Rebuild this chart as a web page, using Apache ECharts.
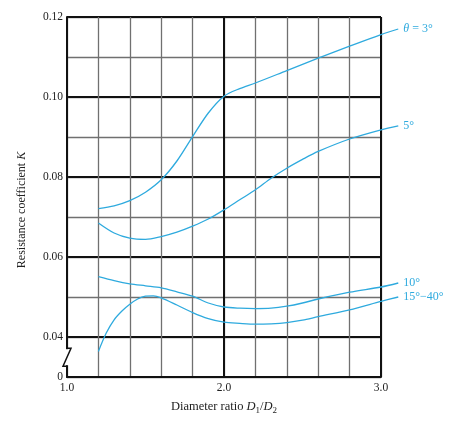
<!DOCTYPE html>
<html>
<head>
<meta charset="utf-8">
<script src="https://cdn.jsdelivr.net/npm/echarts@6/dist/echarts.min.js"></script>
<style>
  html, body { margin: 0; padding: 0; background: #fff; }
  #chart { width: 474px; height: 424px; }
</style>
</head>
<body>
<div id="chart"></div>
<script>
// diameter ratio D1/D2 for each curve and the resistance coefficient K
var ratio3 = [1.2, 1.3, 1.4, 1.5, 1.6, 1.7, 1.8, 1.9, 2.0, 2.1, 2.2, 2.4, 2.6, 2.8, 3.0, 3.11];
var k3 = [0.0721, 0.0728, 0.0741, 0.0762, 0.0793, 0.0840, 0.0901, 0.0960, 0.1002, 0.1021, 0.1035, 0.1066, 0.1097, 0.1127, 0.1156, 0.1170];

var ratio5 = [1.2, 1.3, 1.4, 1.5, 1.6, 1.7, 1.8, 1.9, 2.0, 2.1, 2.2, 2.3, 2.4, 2.5, 2.6, 2.8, 3.0, 3.11];
var k5 = [0.0685, 0.0660, 0.0647, 0.0644, 0.0651, 0.0662, 0.0677, 0.0695, 0.0718, 0.0743, 0.0768, 0.0797, 0.0822, 0.0844, 0.0864, 0.0895, 0.0918, 0.0928];

var ratio10 = [1.2, 1.3, 1.4, 1.5, 1.6, 1.7, 1.8, 1.9, 2.0, 2.1, 2.2, 2.3, 2.4, 2.5, 2.6, 2.8, 3.0, 3.11];
var k10 = [0.0551, 0.0541, 0.0533, 0.0528, 0.0523, 0.0513, 0.0502, 0.0485, 0.0475, 0.0472, 0.0471, 0.0472, 0.0477, 0.0485, 0.0495, 0.0512, 0.0525, 0.0535];

var ratio15 = [1.2, 1.25, 1.3, 1.35, 1.4, 1.45, 1.5, 1.55, 1.6, 1.7, 1.8, 1.9, 2.0, 2.1, 2.2, 2.3, 2.4, 2.5, 2.6, 2.8, 3.0, 3.11];
var k15 = [0.0364, 0.0410, 0.0443, 0.0465, 0.0482, 0.0495, 0.0502, 0.0503, 0.0498, 0.0480, 0.0461, 0.0446, 0.0437, 0.0434, 0.0432, 0.0433, 0.0436, 0.0442, 0.0451, 0.0468, 0.0489, 0.0500];

var curveNames = ['{it|θ} = 3°', '5°', '10°', '15°−40°'];
var xTickLabels = ['1.0', '2.0', '3.0'];

var blue = '#2eaade';
var serif = 'Liberation Serif';

// the curves run a little past D1/D2 = 3.0, so they sit on a wider grid with the same scale
var xMin = 1, xMax = 3, xCurveMax = 3.12;
var plotLeft = 67, plotTop = 17, plotW = 314, plotH = 360;
var curveW = plotW * (xCurveMax - xMin) / (xMax - xMin);

function pairs(xs, ys) {
  var out = [];
  for (var i = 0; i < xs.length; i++) out.push([xs[i], ys[i]]);
  return out;
}

var myChart = echarts.init(document.getElementById('chart'));

function curve(name, xs, ys) {
  return {
    name: name,
    type: 'line',
    xAxisIndex: 2,
    yAxisIndex: 2,
    smooth: 0.3,
    symbol: 'none',
    clip: false,
    lineStyle: { color: blue, width: 1.3 },
    endLabel: {
      show: true,
      distance: 5,
      formatter: function () { return name; },
      color: blue,
      fontFamily: serif,
      fontSize: 12,
      rich: { it: { fontStyle: 'italic', color: blue, fontFamily: serif, fontSize: 12 } }
    },
    data: pairs(xs, ys)
  };
}

var hidden = {
  axisLine: { show: false }, axisTick: { show: false },
  axisLabel: { show: false }, splitLine: { show: false }
};

var option = {
  animation: false,
  grid: [
    { left: plotLeft, top: plotTop, width: plotW, height: plotH },
    { left: plotLeft, top: plotTop, width: curveW, height: plotH }
  ],
  xAxis: [
    {
      // thin grid every 0.2
      type: 'value', gridIndex: 0, min: xMin, max: xMax, interval: 0.2, position: 'top',
      axisLine: { show: false }, axisTick: { show: false }, axisLabel: { show: false },
      splitLine: { show: true, lineStyle: { color: '#707070', width: 1.3 } }
    },
    {
      type: 'value', gridIndex: 0, min: xMin, max: xMax, interval: 1, position: 'bottom',
      axisLine: { show: true, onZero: false, lineStyle: { color: '#111', width: 2 } },
      axisTick: { show: false },
      axisLabel: {
        margin: 5, color: '#222', fontFamily: serif, fontSize: 11.5,
        formatter: function (v) { return xTickLabels[Math.round(v) - 1]; }
      },
      splitLine: { show: true, lineStyle: { color: '#111', width: 2 } },
      name: '{n|Diameter ratio }{i|D}{s|1}{n|/}{i|D}{s|2}',
      nameLocation: 'middle',
      nameGap: 22,
      nameTextStyle: {
        rich: {
          n: { fontFamily: serif, fontSize: 12.5, color: '#222' },
          i: { fontFamily: serif, fontSize: 12.5, fontStyle: 'italic', color: '#222' },
          s: { fontFamily: serif, fontSize: 9, color: '#222', verticalAlign: 'bottom', padding: [7, 0, 0, 0] }
        }
      }
    },
    Object.assign({ type: 'value', gridIndex: 1, min: xMin, max: xCurveMax }, hidden)
  ],
  yAxis: [
    {
      // thin grid every 0.01
      type: 'value', gridIndex: 0, min: 0.03, max: 0.12, interval: 0.01, position: 'right',
      axisLine: { show: false }, axisTick: { show: false }, axisLabel: { show: false },
      splitLine: { show: true, lineStyle: { color: '#707070', width: 1.3 } }
    },
    {
      type: 'value', gridIndex: 0, min: 0.03, max: 0.12, interval: 0.01, position: 'left',
      axisLine: { show: true, lineStyle: { color: '#111', width: 2 } },
      axisTick: { show: false },
      axisLabel: {
        margin: 4, color: '#222', fontFamily: serif, fontSize: 11.5,
        formatter: function (v) {
          var n = Math.round(v * 100);
          if (n === 3) return '0';
          return n % 2 === 0 ? (n / 100).toFixed(2) : '';
        }
      },
      // heavy lines at 0.04, 0.06 ... 0.12
      splitLine: { show: true, lineStyle: { color: ['rgba(0,0,0,0)', '#111'], width: 2 } }
    },
    Object.assign({ type: 'value', gridIndex: 1, min: 0.03, max: 0.12 }, hidden)
  ],
  series: [
    curve(curveNames[0], ratio3, k3),
    curve(curveNames[1], ratio5, k5),
    curve(curveNames[2], ratio10, k10),
    curve(curveNames[3], ratio15, k15)
  ]
};
myChart.setOption(option);

// y axis title and the axis break mark
var ax = myChart.convertToPixel({ xAxisIndex: 1 }, 1);
var yTop = myChart.convertToPixel({ yAxisIndex: 1 }, 0.0372);
var yBot = myChart.convertToPixel({ yAxisIndex: 1 }, 0.0327);
var yMid = myChart.convertToPixel({ yAxisIndex: 1 }, 0.0735);
myChart.setOption({
  graphic: [
    {
      type: 'rect', z: 100,
      shape: { x: ax - 2, y: yTop + 1, width: 4, height: yBot - yTop - 2 },
      style: { fill: '#fff' }
    },
    {
      type: 'polyline', z: 101,
      shape: { points: [[ax, yTop], [ax + 4, yTop], [ax - 4, yBot], [ax, yBot]] },
      style: { stroke: '#111', lineWidth: 1.5, fill: null }
    },
    {
      type: 'text', z: 101,
      x: 22, y: yMid + 7, rotation: Math.PI / 2,
      style: {
        text: '{n|Resistance coefficient }{i|K}',
        align: 'center', verticalAlign: 'middle',
        rich: {
          n: { fontFamily: serif, fontSize: 12, fill: '#222' },
          i: { fontFamily: serif, fontSize: 12, fontStyle: 'italic', fill: '#222' }
        }
      }
    }
  ]
});
</script>
</body>
</html>
